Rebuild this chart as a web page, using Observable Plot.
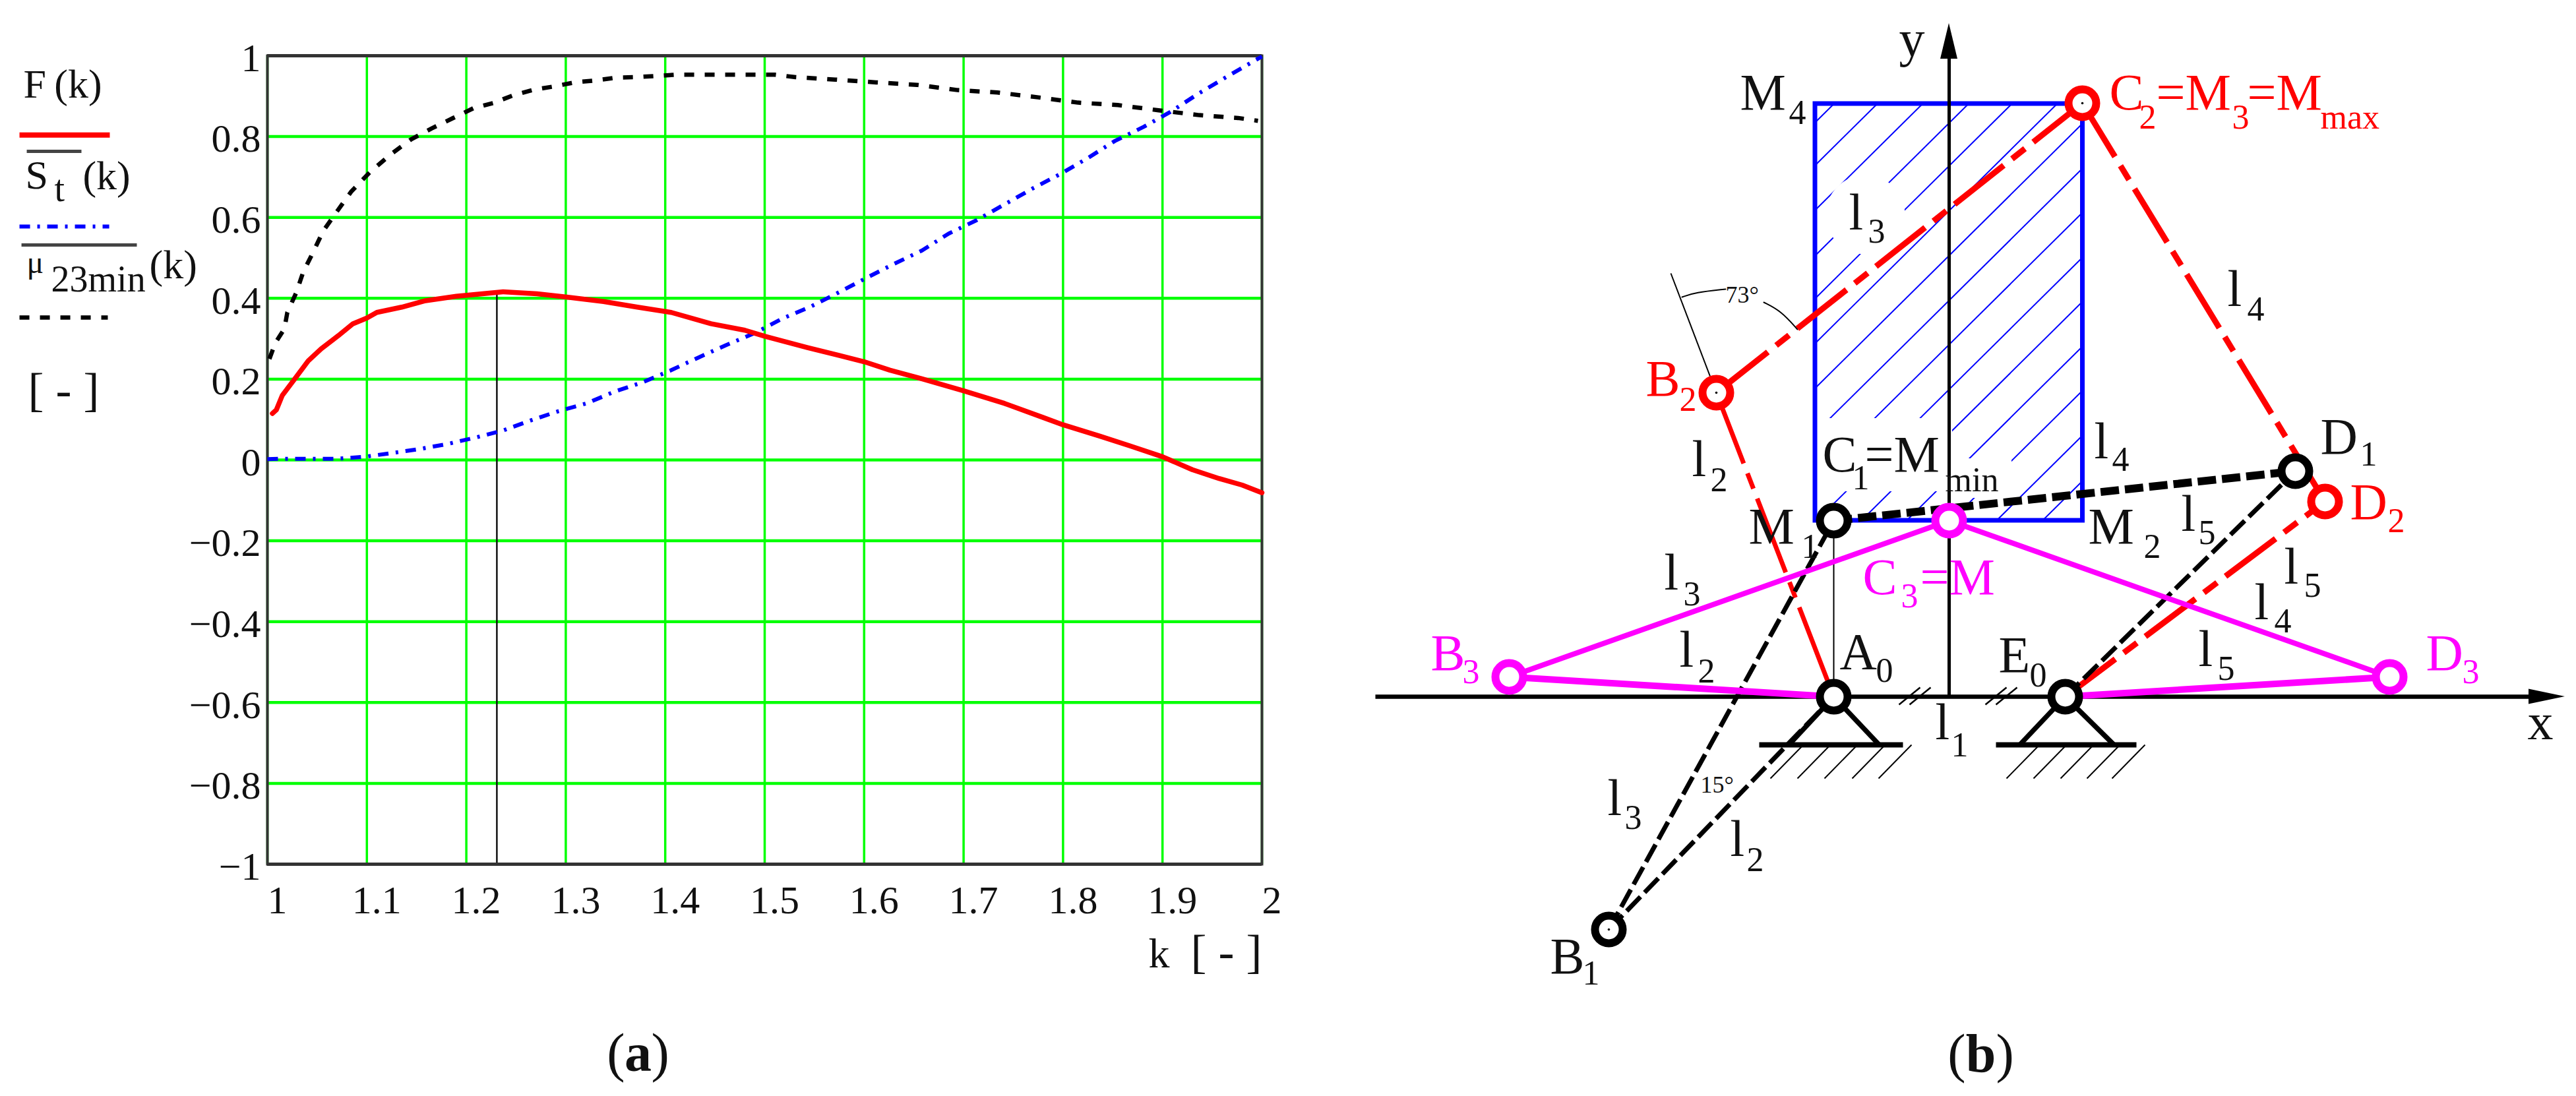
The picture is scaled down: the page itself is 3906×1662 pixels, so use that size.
<!DOCTYPE html>
<html>
<head>
<meta charset="utf-8">
<script src="https://cdn.jsdelivr.net/npm/d3@7"></script>
<script src="https://cdn.jsdelivr.net/npm/@observablehq/plot@0.6"></script>
<style>
html,body{margin:0;padding:0;background:#fff;width:3906px;height:1662px;overflow:hidden}
#wrap{position:relative;width:3906px;height:1662px}
#wrap svg{position:absolute;top:0;max-width:none;overflow:visible}
</style>
</head>
<body>
<div id="wrap"></div>
<script>
// ---------- panel (a): curves ----------
const kTicks = [1,1.1,1.2,1.3,1.4,1.5,1.6,1.7,1.8,1.9,2];
const vTicks = [-1,-0.8,-0.6,-0.4,-0.2,0,0.2,0.4,0.6,0.8,1];
const optimumK = 1.2307, optimumV = 0.415;

const redK = [1.005,1.009,1.015,1.027,1.041,1.054,1.071,1.086,1.1,1.11,1.135,1.159,1.19,1.237,1.271,1.301,1.338,1.372,1.406,1.446,1.48,1.5,1.543,1.6,1.626,1.658,1.7,1.741,1.78,1.8,1.837,1.867,1.9,1.93,1.957,1.98,2];
const redV = [0.115,0.124,0.16,0.199,0.245,0.275,0.307,0.337,0.351,0.365,0.378,0.394,0.405,0.416,0.411,0.403,0.392,0.378,0.365,0.337,0.321,0.306,0.278,0.243,0.222,0.201,0.171,0.14,0.105,0.087,0.059,0.035,0.008,-0.024,-0.046,-0.062,-0.081];

const blueK = [1,1.0135,1.042,1.07,1.098,1.125,1.153,1.182,1.21,1.237,1.266,1.293,1.321,1.349,1.377,1.405,1.433,1.461,1.49,1.518,1.546,1.574,1.602,1.63,1.658,1.685,1.713,1.741,1.769,1.797,1.825,1.852,1.881,1.908,1.936,1.964,1.992,2];
const blueV = [0.002,0.003,0.003,0.003,0.008,0.017,0.027,0.04,0.056,0.073,0.099,0.121,0.14,0.169,0.192,0.221,0.253,0.284,0.314,0.35,0.379,0.414,0.45,0.485,0.518,0.56,0.593,0.632,0.671,0.707,0.747,0.789,0.824,0.861,0.906,0.947,0.987,0.998];

const blackK = [1.002,1.008,1.017,1.02,1.029,1.036,1.046,1.056,1.07,1.084,1.103,1.124,1.145,1.165,1.186,1.207,1.227,1.247,1.268,1.288,1.309,1.33,1.351,1.371,1.391,1.41,1.47,1.51,1.531,1.571,1.612,1.653,1.694,1.734,1.775,1.815,1.855,1.896,1.937,1.976,1.996];
const blackV = [0.25,0.29,0.324,0.365,0.414,0.465,0.514,0.566,0.615,0.663,0.712,0.756,0.794,0.82,0.845,0.87,0.883,0.902,0.916,0.924,0.934,0.939,0.946,0.947,0.95,0.953,0.953,0.953,0.947,0.941,0.934,0.928,0.915,0.909,0.897,0.884,0.878,0.865,0.853,0.846,0.839];

const legendRedK = [0.7507,0.8415],   legendRedV = [0.804,0.804];
const legendBlueK = [0.7507,0.8409],  legendBlueV = [0.5775,0.5775];
const legendBlackK = [0.7507,0.8395], legendBlackV = [0.3524,0.3524];
const overlineSK = [0.758,0.813],     overlineSV = [0.7635,0.7635];
const overlineMuK = [0.7527,0.8687],  overlineMuV = [0.5318,0.5318];

// text, k, v
const legendLarge = [["F\u2009(k)",0.7546,0.897],["S",0.7566,0.672],["(k)",0.8143,0.669],["(k)",0.8813,0.449]];
const legendSub = [["t",0.7858,0.641],["23min",0.7825,0.416]];
const legendMu = [["\u03bc",0.7579,0.462]];
const legendUnits = [["[ - ]",0.7593,0.134],["[ - ]",1.9284,-1.256]];
const xName = [["k",1.886,-1.256]];

const pts = (xs,ys) => xs.map((x,i)=>({x,y:ys[i]}));
const serif = "Liberation Serif";
const labelOpts = (size,fill,extra={}) => ({x:d=>d[1],y:d=>d[2],text:d=>d[0],fontSize:size,fill,textAnchor:"start",lineAnchor:"bottom",...extra});
const dashBlack = {stroke:"#000",strokeWidth:6.5,strokeDasharray:"15 16",strokeLinecap:"butt"};
const dashBlue = {stroke:"#0000ff",strokeWidth:6,strokeDasharray:"16 11 4 11",strokeLinecap:"butt"};

const panelA = Plot.plot({
  width:1953,height:1662,marginLeft:405,marginRight:40,marginTop:84,marginBottom:352,
  style:{fontFamily:serif,background:"transparent",color:"#111"},
  x:{domain:[1,2]},y:{domain:[-1,1]},
  marks:[
    Plot.ruleY(vTicks,{stroke:"#00ff00",strokeWidth:4.5}),
    Plot.ruleX(kTicks,{stroke:"#00ff00",strokeWidth:3.5}),
    Plot.ruleX([optimumK],{y1:-1,y2:optimumV,stroke:"#111",strokeWidth:2.5}),
    Plot.frame({stroke:"#333",strokeWidth:4}),
    Plot.ruleY([1,-1],{stroke:"#333",strokeWidth:5}),
    Plot.axisX({ticks:kTicks,tickSize:0,tickPadding:32,fontSize:60,dx:15,label:null,tickFormat:d=>String(d)}),
    Plot.axisY({ticks:vTicks,tickSize:0,tickPadding:10,fontSize:60,dy:4,label:null,tickFormat:d=>String(d).replace("-","\u2212")}),
    Plot.line(pts(blackK,blackV),{x:"x",y:"y",...dashBlack}),
    Plot.line(pts(blueK,blueV),{x:"x",y:"y",...dashBlue}),
    Plot.line(pts(redK,redV),{x:"x",y:"y",stroke:"#ff0000",strokeWidth:7.5}),
    Plot.line(pts(legendRedK,legendRedV),{x:"x",y:"y",stroke:"#ff0000",strokeWidth:8,strokeLinecap:"butt"}),
    Plot.line(pts(legendBlueK,legendBlueV),{x:"x",y:"y",...dashBlue}),
    Plot.line(pts(legendBlackK,legendBlackV),{x:"x",y:"y",...dashBlack}),
    Plot.line(pts(overlineSK,overlineSV),{x:"x",y:"y",stroke:"#444",strokeWidth:5,strokeLinecap:"butt"}),
    Plot.line(pts(overlineMuK,overlineMuV),{x:"x",y:"y",stroke:"#444",strokeWidth:5,strokeLinecap:"butt"}),
    Plot.text(legendLarge,labelOpts(62,"#111")),
    Plot.text(legendSub,labelOpts(56,"#111")),
    Plot.text(legendMu,labelOpts(48,"#111")),
    Plot.text(legendUnits,labelOpts(72,"#111")),
    Plot.text(xName,labelOpts(64,"#111")),
    Plot.text([["(",1.3594,-1.512]],labelOpts(82,"#111",{textAnchor:"end"})),
    Plot.text([["a",1.3727,-1.512]],labelOpts(82,"#111",{textAnchor:"middle",fontWeight:"bold"})),
    Plot.text([[")",1.386,-1.512]],labelOpts(82,"#111"))
  ]
});

// ---------- panel (b): mechanism (units: origin at the axes crossing) ----------
const A0=[-1.75,0], E0=[1.76,0];
const B1=[-5.16,-3.53], C1=[-1.75,2.67], D1=[5.25,3.42];
const B2=[-3.53,4.61],  C2=[2.02,9.0],   D2=[5.70,2.96];
const B3=[-6.67,0.30],  C3=[0,2.67],     D3=[6.68,0.30];

const zoneLeft=-2.03, zoneRight=2.025, zoneBottom=2.67, zoneTop=8.99;
const hatchOffsets=[8.71,8.06,7.38,6.69,6.04,5.36,4.68,4.00,3.33,2.65,1.98,1.30,0.63,-0.05,-0.74];
const hatchSlope=0.99;
const groundA=[-2.88,-0.70], groundE=[0.71,2.84], groundLevel=-0.73, hatchFoot=-1.24;
const baseA=[-2.43,-1.06], baseE=[1.07,2.50];
const groundTicksA=[-2.71,-2.30,-1.89,-1.47,-1.07], groundTicksE=[0.87,1.28,1.69,2.09,2.47];
const xAxisEnds=[-8.70,8.85], yAxisEnds=[0,9.7];
const xArrowX=[8.79,9.34], xArrowHalf=[0.115,0];
const yArrowY=[9.67,10.21], yArrowHalf=[0.13,0];
const slashesLow=[-0.76,-0.60,0.55,0.71];
const angle73Line=[B2,[-4.22,6.42]];
const angle73Left=[[-4.05,6.06],[-3.85,6.13],[-3.39,6.18]];
const angle73Right=[[-2.81,5.98],[-2.55,5.85],[-2.30,5.57]];

const hatchSegs = hatchOffsets.map(c=>{
  const w=zoneRight-zoneLeft;
  let x1=zoneLeft,y1=c,x2=zoneRight,y2=c+hatchSlope*w;
  if(y1<zoneBottom){x1=zoneLeft+(zoneBottom-c)/hatchSlope;y1=zoneBottom;}
  if(y2>zoneTop){x2=zoneLeft+(zoneTop-c)/hatchSlope;y2=zoneTop;}
  return {x1,y1,x2,y2};
});
const link=(list,o)=>Plot.link(list,{x1:d=>d[0][0],y1:d=>d[0][1],x2:d=>d[1][0],y2:d=>d[1][1],strokeLinecap:"butt",...o});
const joint=(list,stroke)=>Plot.dot(list,{x:d=>d[0],y:d=>d[1],r:21,fill:"#fff",stroke,strokeWidth:12});
const segX=(xs,y1,y2,shift)=>xs.map(x=>[[x+shift,y1],[x,y2]]);

const blackMain=[["y",-0.76,9.72],["M",-3.17,8.91],["l",-1.52,7.09],["l",4.22,5.93],["l",-3.90,3.35],["C",-1.92,3.42],["=M",-1.28,3.42],["l",2.20,3.62],["D",5.63,3.69],["M",-3.04,2.33],["M",2.11,2.33],["l",3.52,2.52],["l",-4.32,1.63],["l",5.08,1.72],["l",4.63,1.18],["l",-4.09,0.46],["l",3.78,0.47],["A",-1.66,0.43],["E",0.75,0.38],["x",8.77,-0.64],["l",-0.21,-0.64],["l",-5.18,-1.79],["l",-3.32,-2.41],["B",-6.05,-4.19]];
const blackSubs=[["4",-2.43,8.69],["3",-1.23,6.89],["4",4.52,5.71],["2",-3.62,3.12],["1",-1.47,3.15],["min",-0.06,3.12],["4",2.47,3.43],["1",6.23,3.51],["1",-2.24,2.11],["2",2.95,2.11],["5",3.78,2.32],["3",-4.03,1.39],["5",5.38,1.52],["4",4.93,0.98],["2",-3.81,0.22],["5",4.07,0.26],["0",-1.11,0.23],["0",1.22,0.16],["1",0.03,-0.90],["3",-4.92,-2.00],["2",-3.07,-2.64],["1",-5.56,-4.36]];
const redMain=[["C",2.43,8.91],["=M",3.14,8.91],["=M",4.52,8.91],["B",-4.60,4.57],["D",6.08,2.70]];
const redSubs=[["2",2.88,8.62],["3",4.29,8.62],["max",5.63,8.62],["2",-4.09,4.34],["2",6.65,2.50]];
const magentaMain=[["C",-1.31,1.56],["=M",-0.44,1.56],["B",-7.86,0.41],["D",7.23,0.41]];
const magentaSubs=[["3",-0.73,1.36],["3",-7.38,0.21],["3",7.78,0.21]];
const angleLabels=[["73\u00b0",-3.39,5.98],["15\u00b0",-3.77,-1.45]];

const RED="#ff0000", MAG="#ff00ff", BLU="#0000ff", BLK="#000";
const redDash="95 16 25 16";

const panelB = Plot.plot({
  width:1953,height:1662,marginLeft:0,marginRight:0,marginTop:0,marginBottom:0,
  style:{fontFamily:serif,background:"transparent",color:"#111"},
  x:{domain:[-10.02,9.51],axis:null},y:{domain:[-6.06,10.56],axis:null},
  marks:[
    Plot.link(hatchSegs,{x1:"x1",y1:"y1",x2:"x2",y2:"y2",stroke:BLU,strokeWidth:2}),
    // clearings in the hatching around the labels
    Plot.dot([[-1.27,7.31]],{x:d=>d[0],y:d=>d[1],r:60,fill:"#fff"}),
    Plot.rect([[-2.03,0.05,3.11,4.22],[0,0.95,3.01,3.61]],{x1:d=>d[0],x2:d=>d[1],y1:d=>d[2],y2:d=>d[3],fill:"#fff"}),
    Plot.rect([[zoneLeft,zoneRight,zoneBottom,zoneTop]],{x1:d=>d[0],x2:d=>d[1],y1:d=>d[2],y2:d=>d[3],stroke:BLU,strokeWidth:7,fill:"none"}),
    // axes
    link([[[xAxisEnds[0],0],[xAxisEnds[1],0]]],{stroke:BLK,strokeWidth:6.5}),
    link([[[0,yAxisEnds[0]],[0,yAxisEnds[1]]]],{stroke:BLK,strokeWidth:5}),
    Plot.areaY(pts(xArrowX,xArrowHalf),{x:"x",y1:d=>-d.y,y2:d=>d.y,fill:BLK}),
    Plot.areaX(yArrowY.map((y,i)=>({y,h:yArrowHalf[i]})),{y:"y",x1:d=>-d.h,x2:d=>d.h,fill:BLK}),
    link(slashesLow.map(x=>[[x,-0.12],[x+0.32,0.14]]),{stroke:BLK,strokeWidth:2.5}),
    link([[[C1[0],C1[1]],A0]],{stroke:BLK,strokeWidth:2}),
    // supports
    link([[[groundA[0],groundLevel],[groundA[1],groundLevel]],[[groundE[0],groundLevel],[groundE[1],groundLevel]]],{stroke:BLK,strokeWidth:8}),
    link([[[baseA[0],groundLevel],A0],[[baseA[1],groundLevel],A0],[[baseE[0],groundLevel],E0],[[baseE[1],groundLevel],E0]],{stroke:BLK,strokeWidth:7.5}),
    link(segX(groundTicksA,groundLevel,hatchFoot,0.5),{stroke:BLK,strokeWidth:2}),
    link(segX(groundTicksE,groundLevel,hatchFoot,0.5),{stroke:BLK,strokeWidth:2}),
    // angle notes
    link([angle73Line],{stroke:BLK,strokeWidth:2}),
    Plot.line(angle73Left,{x:d=>d[0],y:d=>d[1],curve:"basis",stroke:BLK,strokeWidth:2}),
    Plot.line(angle73Right,{x:d=>d[0],y:d=>d[1],curve:"basis",stroke:BLK,strokeWidth:2}),
    // position 2 (red)
    link([[B2,A0]],{stroke:RED,strokeWidth:7,strokeDasharray:"115 16 25 16 120 16 25 16 200"}),
    link([[C2,B2],[C2,D2]],{stroke:RED,strokeWidth:9,strokeDasharray:redDash}),
    link([[E0,D2]],{stroke:RED,strokeWidth:9,strokeDasharray:redDash}),
    // position 1 (black dashed)
    link([[B1,A0],[B1,C1],[E0,D1]],{stroke:BLK,strokeWidth:7,strokeDasharray:"30 9"}),
    link([[C1,D1]],{stroke:BLK,strokeWidth:12,strokeDasharray:"28 9"}),
    // position 3 (magenta)
    link([[B3,C3],[C3,D3]],{stroke:MAG,strokeWidth:8}),
    link([[B3,A0],[D3,E0]],{stroke:MAG,strokeWidth:10}),
    // joints
    joint([B1,C1,D1,A0,E0],BLK),
    joint([B2,C2,D2],RED),
    joint([B3,C3,D3],MAG),
    Plot.dot([B1,B2,C2],{x:d=>d[0],y:d=>d[1],r:1.8,fill:BLK}),
    // labels
    Plot.text(blackMain,labelOpts(78,"#111")),
    Plot.text(blackSubs,labelOpts(52,"#111")),
    Plot.text(redMain,labelOpts(78,RED)),
    Plot.text(redSubs,labelOpts(52,RED)),
    Plot.text(magentaMain,labelOpts(78,MAG)),
    Plot.text(magentaSubs,labelOpts(52,MAG)),
    Plot.text(angleLabels,labelOpts(36,"#111")),
    Plot.text([["(",0.25,-5.68]],labelOpts(82,"#111",{textAnchor:"end"})),
    Plot.text([["b",0.48,-5.68]],labelOpts(82,"#111",{textAnchor:"middle",fontWeight:"bold"})),
    Plot.text([[")",0.71,-5.68]],labelOpts(82,"#111"))
  ]
});

const wrap=document.getElementById("wrap");
panelA.style.left="0px";
panelB.style.left="1953px";
wrap.append(panelA,panelB);
</script>
</body>
</html>
